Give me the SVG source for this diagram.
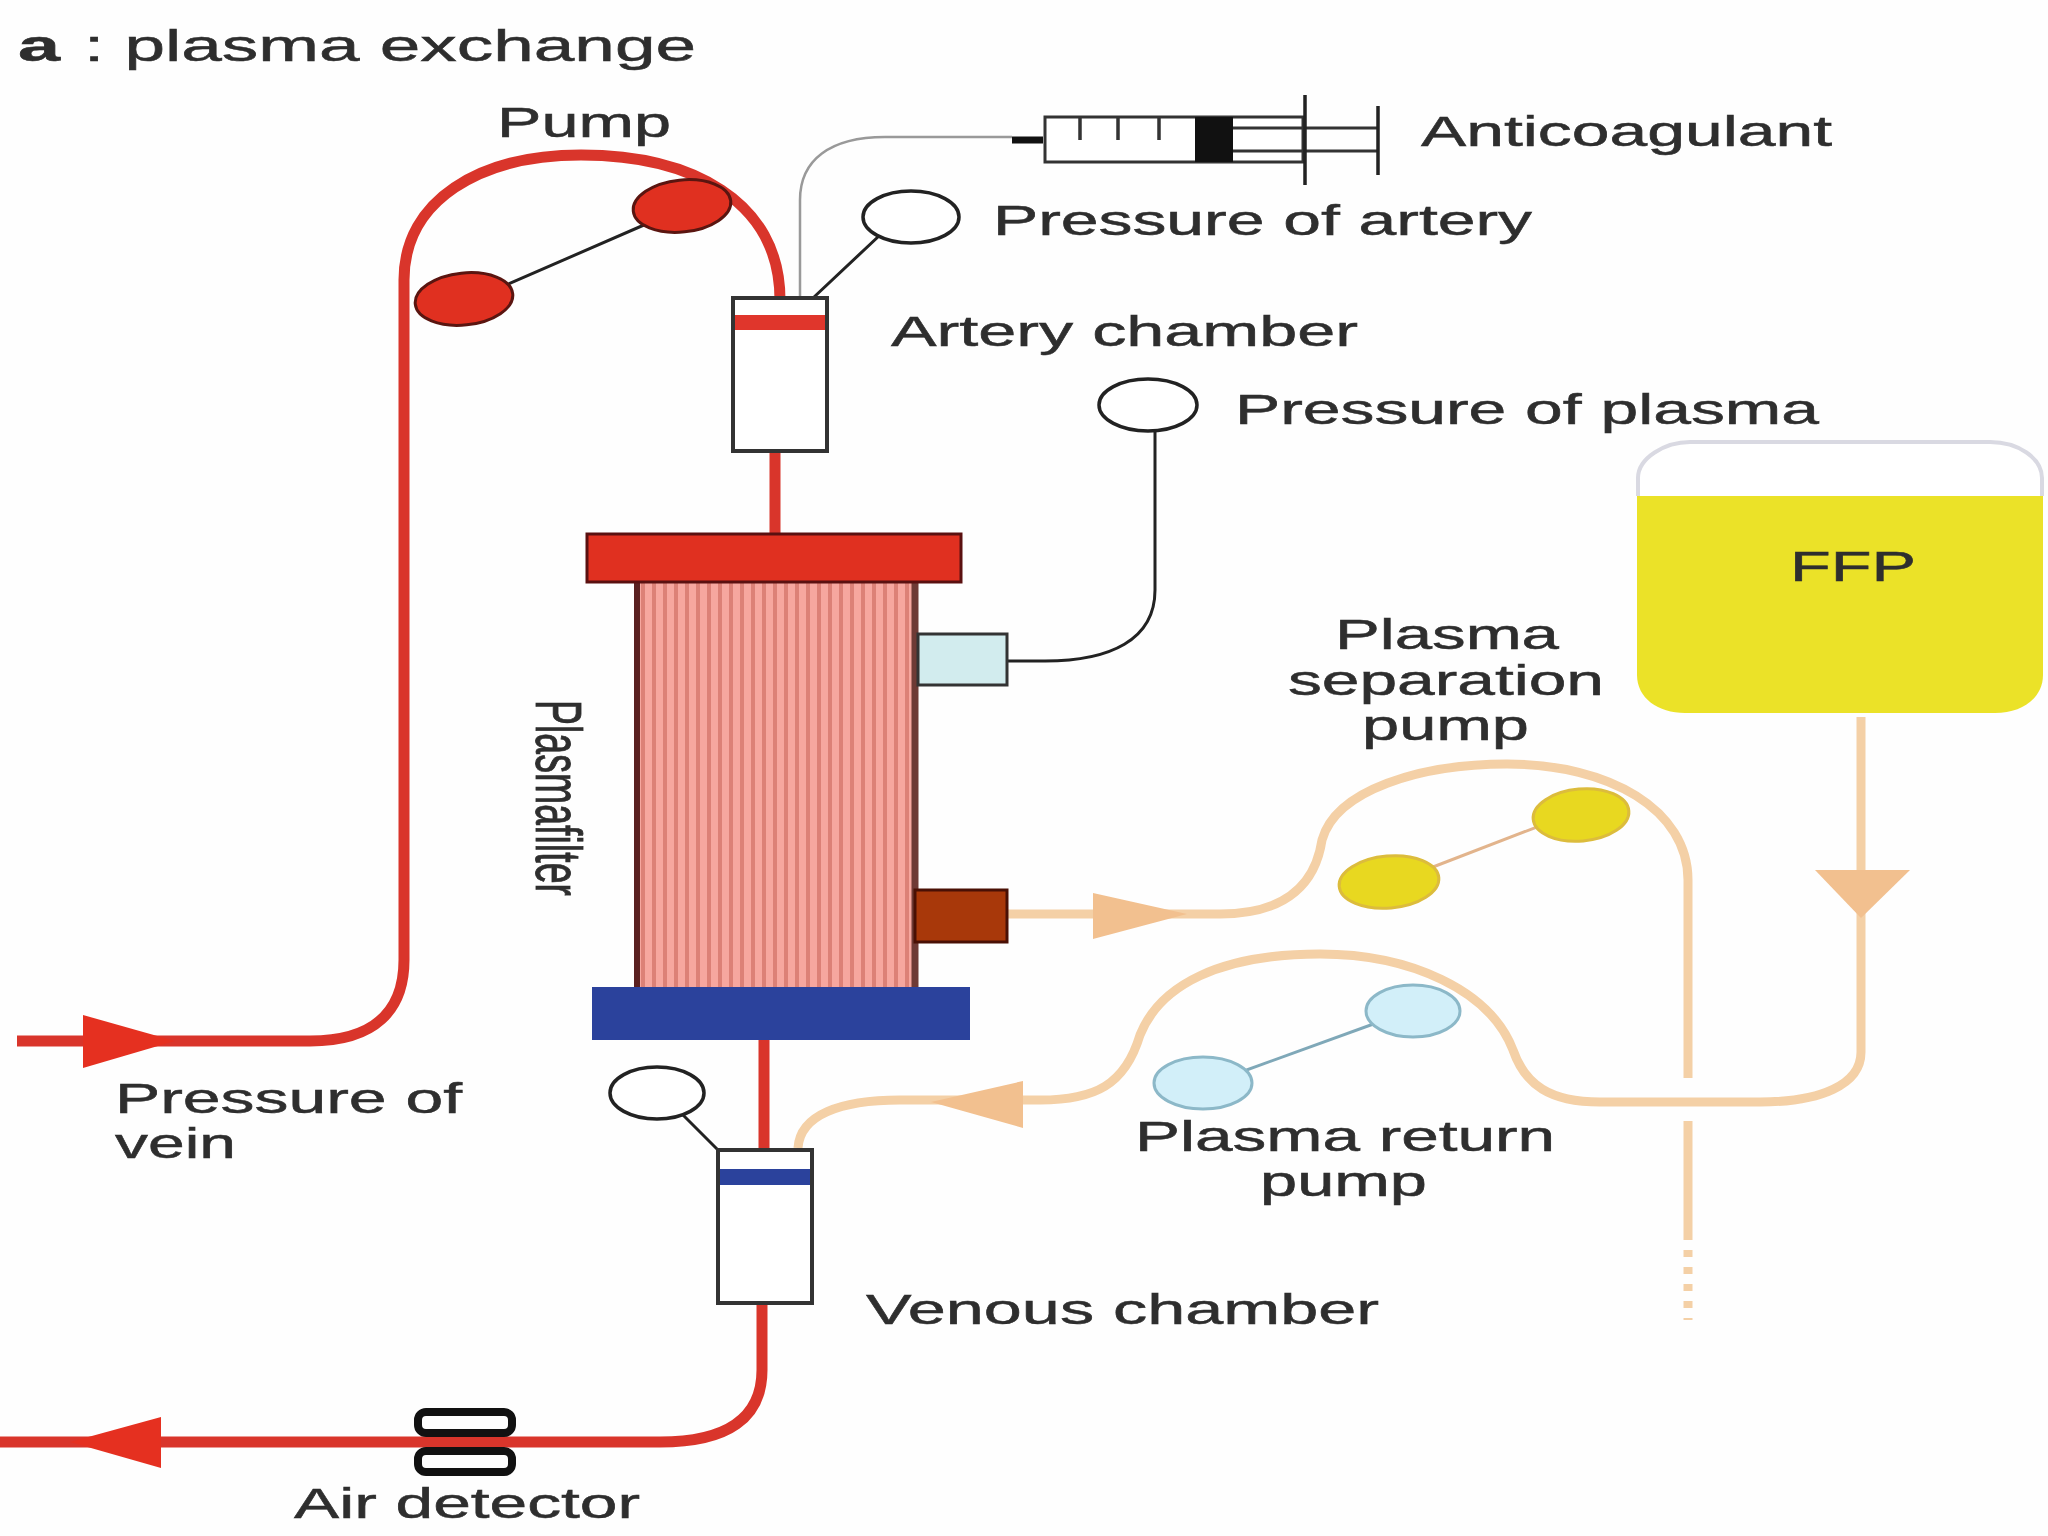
<svg xmlns="http://www.w3.org/2000/svg" width="2048" height="1536" viewBox="0 0 2048 1536">
<style>
text{font-family:"Liberation Sans",Arial,sans-serif;font-size:42px;fill:#2e2e2e;stroke:#2e2e2e;stroke-width:.5px;}
.red{fill:none;stroke:#d9352b;stroke-width:11;}
.plasma{fill:none;stroke:#f4d0a6;stroke-width:9;}
.thin{fill:none;stroke:#222;stroke-width:3;}
.gauge{fill:#fff;stroke:#222;stroke-width:3.5;}
.chamber{fill:#fff;stroke:#333;stroke-width:4;}
.rollerRed{fill:#e03020;stroke:#5a1510;stroke-width:3;}
.rollerYellow{fill:#e8d820;stroke:#dcbc3c;stroke-width:3;}
.rollerBlue{fill:#d2eff9;stroke:#8cb8c8;stroke-width:3;}
</style>
<defs>
<pattern id="fibres" width="11" height="20" patternUnits="userSpaceOnUse">
<rect width="11" height="20" fill="#f6a79f"/>
<rect x="3" width="4" height="20" fill="#dc8177"/>
</pattern>
</defs>
<rect width="2048" height="1536" fill="#fefefe"/>
<g id="connectors">
<path class="red" d="M17 1041H310C375 1041 404 1010 404 960V280C404 200 480 155 581 155C690 155 780 200 780 300"/>
<path class="red" d="M775 451V535"/>
<path class="red" d="M764 1038V1150M762 1303V1370Q762 1442 660 1442H0"/>
<polygon points="175,1041 83,1015 83,1068" fill="#e53020"/>
<polygon points="70,1442 161,1417 161,1468" fill="#e53020"/>
<path d="M800 297V200C800 160 830 137 885 137H1012" fill="none" stroke="#999" stroke-width="2.5"/>
<path class="thin" d="M490 292L660 218M813 298L880 235M680 1112L718 1150"/>
<path class="thin" d="M1155 431V590C1155 640 1110 661 1045 661H1007"/>
<path class="plasma" d="M1007 914H1220C1290 914 1316 880 1322 840C1336 790 1420 764 1507 764C1610 764 1688 810 1688 880V1078M1688 1121V1240"/>
<path class="plasma" stroke-dasharray="7 10" stroke-width="7" d="M1688 1250V1320"/>
<path class="plasma" d="M1861 717V1052C1861 1085 1820 1102 1760 1102H1600C1550 1102 1525 1085 1513 1050C1490 990 1410 954 1320 954C1220 954 1160 985 1140 1035C1125 1085 1095 1100 1040 1100H900C840 1100 800 1115 798 1148"/>
<polygon points="1187,914 1093,893 1093,939" fill="#f2c08f"/>
<polygon points="1861,918 1815,870 1910,870" fill="#f2c08f"/>
<polygon points="931,1102 1023,1081 1023,1128" fill="#f2c08f"/>
<path d="M1420 872L1550 822" stroke="#e2b48c" stroke-width="3" fill="none"/>
<path d="M1230 1076L1390 1018" stroke="#7fa8b8" stroke-width="3" fill="none"/>
</g>
<g id="title">
<text x="18" y="61" textLength="42" lengthAdjust="spacingAndGlyphs" style="font-size:44px;font-weight:bold">a</text>
<text x="84" y="61" textLength="612" lengthAdjust="spacingAndGlyphs" style="font-size:44px">: plasma exchange</text>
</g>
<g id="pump">
<ellipse class="rollerRed" cx="682" cy="206" rx="49" ry="26" transform="rotate(-6 682 206)"/>
<ellipse class="rollerRed" cx="464" cy="299" rx="49" ry="26" transform="rotate(-6 464 299)"/>
<text x="497" y="137" textLength="174" lengthAdjust="spacingAndGlyphs">Pump</text>
</g>
<g id="anticoagulant">
<path d="M1012 140H1043" stroke="#111" stroke-width="7"/>
<rect x="1045" y="117" width="258" height="45" fill="#fff" stroke="#333" stroke-width="3"/>
<path d="M1080 118V140M1118 118V140M1159 118V140" stroke="#333" stroke-width="3.5"/>
<rect x="1195" y="117" width="38" height="45" fill="#111"/>
<path d="M1233 128H1378M1233 151H1378" stroke="#333" stroke-width="3"/>
<path d="M1305 95V185M1378 106V175" stroke="#222" stroke-width="3.5"/>
<text x="1421" y="146" textLength="411" lengthAdjust="spacingAndGlyphs">Anticoagulant</text>
</g>
<g id="pressure-artery">
<ellipse class="gauge" cx="911" cy="217" rx="48" ry="26"/>
<text x="993" y="235" textLength="539" lengthAdjust="spacingAndGlyphs">Pressure of artery</text>
</g>
<g id="artery-chamber">
<rect class="chamber" x="733" y="298" width="94" height="153"/>
<rect x="735" y="315" width="90" height="15" fill="#e0362c"/>
<text x="891" y="346" textLength="467" lengthAdjust="spacingAndGlyphs">Artery chamber</text>
</g>
<g id="pressure-plasma">
<ellipse class="gauge" cx="1148" cy="405" rx="49" ry="26"/>
<text x="1235" y="424" textLength="584" lengthAdjust="spacingAndGlyphs">Pressure of plasma</text>
</g>
<g id="plasmafilter">
<rect x="637" y="583" width="279" height="404" fill="url(#fibres)"/>
<path d="M637 583V987" stroke="#5a2020" stroke-width="6"/>
<path d="M915 583V987" stroke="#6e3a35" stroke-width="7"/>
<rect x="587" y="534" width="374" height="48" fill="#e03020" stroke="#5a1010" stroke-width="3"/>
<rect x="592" y="987" width="378" height="53" fill="#2b429c"/>
<rect x="918" y="634" width="89" height="51" fill="#d2ecee" stroke="#333" stroke-width="3"/>
<rect x="915" y="890" width="92" height="52" fill="#a8380a" stroke="#4a1005" stroke-width="3"/>
<text transform="translate(536 700) rotate(90) scale(1 1.7)" textLength="196" lengthAdjust="spacingAndGlyphs" style="font-size:38px">Plasmafilter</text>
</g>
<g id="ffp">
<path d="M1638 496V478C1638 458 1665 442 1690 442H1990C2018 442 2042 458 2042 478V496" fill="#fff" stroke="#d9d9e2" stroke-width="4"/>
<path d="M1637 496H2043V675C2043 698 2022 713 1995 713H1685C1658 713 1637 698 1637 675Z" fill="#ebe228"/>
<text x="1790" y="581" textLength="126" lengthAdjust="spacingAndGlyphs">FFP</text>
</g>
<g id="plasma-separation-pump">
<ellipse class="rollerYellow" cx="1389" cy="882" rx="50" ry="26" transform="rotate(-5 1389 882)"/>
<ellipse class="rollerYellow" cx="1581" cy="815" rx="48" ry="26" transform="rotate(-5 1581 815)"/>
<text x="1335" y="649" textLength="224" lengthAdjust="spacingAndGlyphs">Plasma</text>
<text x="1288" y="695" textLength="316" lengthAdjust="spacingAndGlyphs">separation</text>
<text x="1362" y="740" textLength="167" lengthAdjust="spacingAndGlyphs">pump</text>
</g>
<g id="plasma-return-pump">
<ellipse class="rollerBlue" cx="1203" cy="1083" rx="49" ry="26"/>
<ellipse class="rollerBlue" cx="1413" cy="1011" rx="47" ry="26"/>
<text x="1135" y="1151" textLength="420" lengthAdjust="spacingAndGlyphs">Plasma return</text>
<text x="1260" y="1196" textLength="167" lengthAdjust="spacingAndGlyphs">pump</text>
</g>
<g id="pressure-vein">
<ellipse class="gauge" cx="657" cy="1093" rx="47" ry="26"/>
<text x="115" y="1113" textLength="347" lengthAdjust="spacingAndGlyphs">Pressure of</text>
<text x="115" y="1158" textLength="121" lengthAdjust="spacingAndGlyphs">vein</text>
</g>
<g id="venous-chamber">
<rect class="chamber" x="718" y="1150" width="94" height="153"/>
<rect x="720" y="1169" width="90" height="16" fill="#2b429c"/>
<text x="866" y="1324" textLength="513" lengthAdjust="spacingAndGlyphs">Venous chamber</text>
</g>
<g id="air-detector">
<rect x="418" y="1412" width="94" height="21" rx="8" fill="none" stroke="#111" stroke-width="8"/>
<rect x="418" y="1451" width="94" height="21" rx="8" fill="none" stroke="#111" stroke-width="8"/>
<text x="294" y="1518" textLength="346" lengthAdjust="spacingAndGlyphs">Air detector</text>
</g>
</svg>
